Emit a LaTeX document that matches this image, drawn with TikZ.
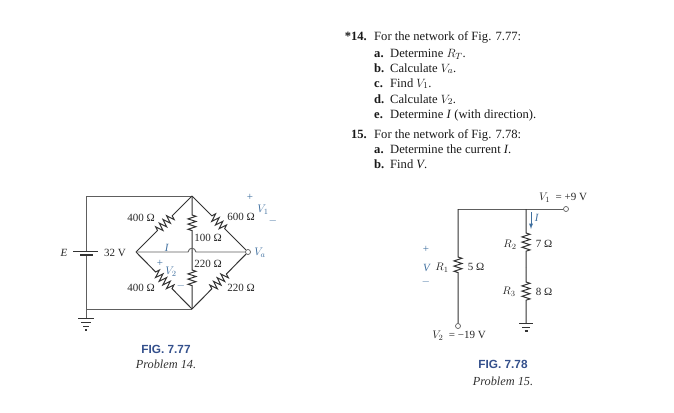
\documentclass[tikz,border=0pt]{standalone}
\usepackage{fontspec}
\setmainfont{Liberation Serif}
\setsansfont{Liberation Sans}
\usetikzlibrary{decorations.pathmorphing}
\definecolor{wirecol}{HTML}{5E5E5E}
\definecolor{labelblue}{HTML}{3F6F9F}
\definecolor{figblue}{HTML}{34508C}
\begin{document}
\begin{tikzpicture}[x=1pt,y=-1pt,
    wire/.style={draw=wirecol,line width=0.9pt},
    plate/.style={draw=black!80,line width=1pt},
    res/.style 2 args={draw=black!80,line width=1pt,decorate,decoration={zigzag,segment length=5.2pt,amplitude=4pt,pre length=#1,post length=#2}},
    term/.style={draw=wirecol,fill=white,circle,inner sep=0pt,minimum size=5pt,line width=0.7pt},
    txt/.style={inner sep=0pt,text=black!85,font=\fontsize{11}{13}\selectfont},
    vlt/.style={inner sep=0pt,text=labelblue,font=\fontsize{11}{13}\selectfont},
    prob/.style={inner sep=0pt,anchor=base west,text=black!90,font=\fontsize{12.6}{15}\selectfont},
    figname/.style={inner sep=0pt,text=figblue,font=\sffamily\bfseries\fontsize{11.8}{14}\selectfont},
    figsub/.style={inner sep=0pt,text=black!80,font=\itshape\fontsize{12.3}{14}\selectfont}]
    \useasboundingbox (0,0) rectangle (674,412);

    % problem text
    \node[prob,anchor=base east] (n14) at (367,41) {\textbf{*14.}};
    \node[prob] (t14) at (374,41) {For the network of Fig. 7.77:};
    \node[prob] (a14) at (374,57) {\textbf{a.}};
    \node[prob] (at14) at (390,57) {Determine $R_T$.};
    \node[prob] (b14) at (374,72) {\textbf{b.}};
    \node[prob] (bt14) at (390,72) {Calculate $V_a$.};
    \node[prob] (c14) at (374,87) {\textbf{c.}};
    \node[prob] (ct14) at (390,87) {Find $V_1$.};
    \node[prob] (d14) at (374,103) {\textbf{d.}};
    \node[prob] (dt14) at (390,103) {Calculate $V_2$.};
    \node[prob] (e14) at (374,118) {\textbf{e.}};
    \node[prob] (et14) at (390,118) {Determine \textit{I} (with direction).};
    \node[prob,anchor=base east] (n15) at (367,138) {\textbf{15.}};
    \node[prob] (t15) at (374,138) {For the network of Fig. 7.78:};
    \node[prob] (a15) at (374,153) {\textbf{a.}};
    \node[prob] (at15) at (390,153) {Determine the current \textit{I}.};
    \node[prob] (b15) at (374,168) {\textbf{b.}};
    \node[prob] (bt15) at (390,168) {Find \textit{V}.};

    % fig 7.77
    \coordinate (top) at (192,196);
    \coordinate (bot) at (192,309);
    \coordinate (lft) at (136,252);
    \coordinate (cross) at (192,252);
    \coordinate (hopL) at (188,252);
    \coordinate (hopR) at (196,252);
    \node[term] (va) at (248,252) {};
    \coordinate (tl) at (86,196);
    \coordinate (bl) at (86,309);
    \coordinate (batA) at (86,251);
    \coordinate (batB) at (86,255);
    \coordinate (gndA) at (86,318);
    \path[wire] (batA) -- (tl) -- (top);
    \path[wire] (batB) -- (bl) -- (bot);
    \path[wire] (bl) -- (gndA);
    \path[plate] (73,251) -- (98,251);
    \path[plate,line width=2pt] (80,255) -- (93,255);
    \path[plate] (78,318) -- (94,318);
    \path[plate] (81,322) -- (91,322);
    \path[plate] (83,326) -- (89,326);
    \path[plate,line width=1.4pt] (85,330) -- (87,330);
    \path[res={28pt}{28pt}] (top) -- (lft);
    \path[res={28pt}{28pt}] (top) -- (va);
    \path[res={28pt}{28pt}] (lft) -- (bot);
    \path[res={28pt}{28pt}] (va) -- (bot);
    \path[res={19pt}{19pt}] (top) -- (cross);
    \path[res={18pt}{21pt}] (cross) -- (bot);
    \path[wire] (lft) -- (hopL) .. controls (189,247) and (195,247) .. (hopR) -- (va);
    \node[txt] (r1) at (141,218) {400 Ω};
    \node[txt] (r2) at (208,238) {100 Ω};
    \node[txt] (r3) at (241,217) {600 Ω};
    \node[txt] (r4) at (208,264) {220 Ω};
    \node[txt] (r5) at (141,288) {400 Ω};
    \node[txt] (r6) at (241,288) {220 Ω};
    \node[txt] (e) at (64,253) {\textit{E}};
    \node[txt] (emf) at (115,253) {32 V};
    \node[vlt] (vp) at (250,197) {+};
    \node[vlt] (v1) at (263,210) {$V_1$};
    \node[vlt] (vm) at (273,221) {$-$};
    \node[vlt] (vaL) at (260,253) {$V_a$};
    \node[vlt] (cur) at (167,248) {\textit{I}};
    \node[vlt] (v2p) at (160,263) {+};
    \node[vlt] (v2) at (171,272) {$V_2$};
    \node[vlt] (v2m) at (181,286) {$-$};
    \node[figname] (f77) at (166,349) {FIG. 7.77};
    \node[figsub] (p14) at (166,364) {Problem 14.};

    % fig 7.78
    \coordinate (tleft) at (458,209);
    \coordinate (tmid) at (526,209);
    \node[term] (v1t) at (566,209) {};
    \node[term] (v2t) at (458,326) {};
    \coordinate (mid) at (526,267);
    \coordinate (gnd) at (526,323);
    \path[wire] (v1t) -- (tleft);
    \path[res={48pt}{49pt}] (tleft) -- (v2t);
    \path[res={24pt}{14pt}] (tmid) -- (mid);
    \path[res={15pt}{21pt}] (mid) -- (gnd);
    \path[plate] (519,323) -- (533,323);
    \path[plate] (522,327) -- (530,327);
    \path[plate,line width=1.4pt] (524.5,331) -- (527.5,331);
    \path[draw=labelblue,line width=0.9pt,-latex] (531,212) -- (531,229);
    \node[vlt] (iL) at (537,218) {\textit{I}};
    \node[txt] (r2n) at (510,245) {$R_2$};
    \node[txt] (r2v) at (544,244) {7 Ω};
    \node[txt] (r1n) at (442,268) {$R_1$};
    \node[txt] (r1v) at (476,267) {5 Ω};
    \node[txt] (r3n) at (509,292) {$R_3$};
    \node[txt] (r3v) at (544,292) {8 Ω};
    \node[vlt] (vpl) at (426,249) {+};
    \node[vlt] (vv) at (427,268) {\textit{V}};
    \node[vlt] (vmi) at (426,282) {$-$};
    \node[txt] (v1L) at (563,198) {$V_1$ ~= +9 V};
    \node[txt] (v2L) at (459,336) {$V_2$ ~= −19 V};
    \node[figname] (f78) at (503,364) {FIG. 7.78};
    \node[figsub] (p15) at (503,381) {Problem 15.};
\end{tikzpicture}
\end{document}
